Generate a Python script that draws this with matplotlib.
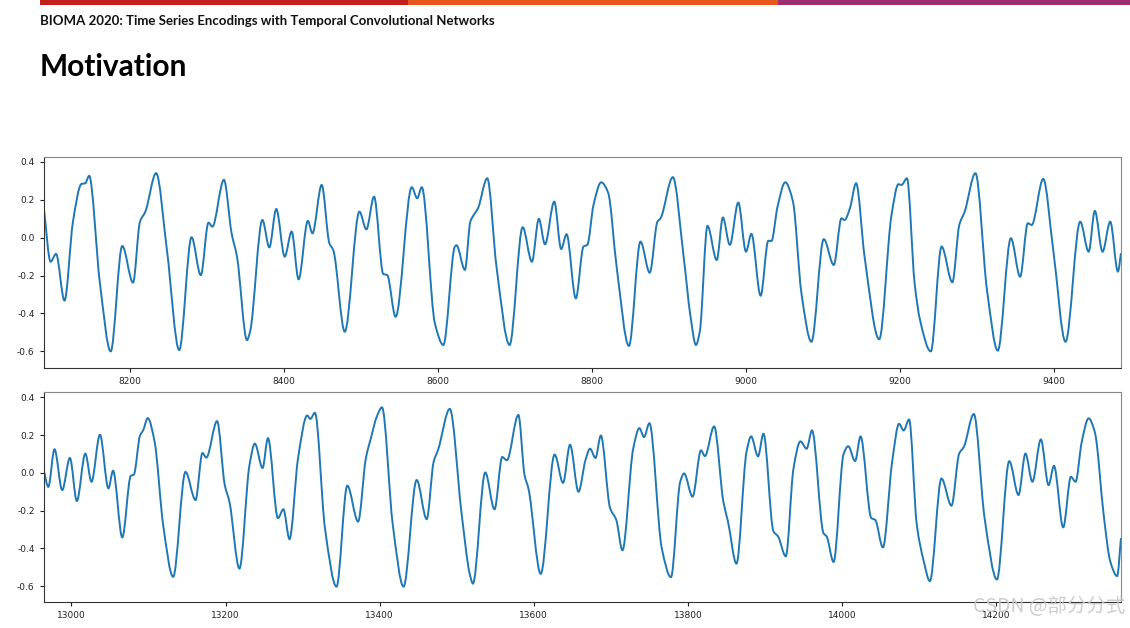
import matplotlib

matplotlib.use("Agg")
import matplotlib.pyplot as plt
import numpy as np
from matplotlib.patches import Rectangle, PathPatch
from matplotlib.path import Path

TITLE = "BIOMA 2020: Time Series Encodings with Temporal Convolutional Networks"
HEADING = "Motivation"
WATERMARK = "CSDN @部分分式"

# top panel: samples (time index, value)
top_t = [8088, 8097, 8104, 8115, 8126, 8137, 8142, 8147, 8161, 8175, 8190, 8204,
         8213, 8220, 8234, 8248, 8264, 8280, 8292, 8302, 8307, 8322, 8332, 8339,
         8352, 8356, 8372, 8381, 8390, 8401, 8410, 8419, 8431, 8437, 8449, 8459,
         8464, 8479, 8498, 8507, 8517, 8529, 8534, 8545, 8566, 8573, 8579, 8596,
         8607, 8622, 8624, 8635, 8642, 8648, 8652, 8664, 8676, 8693, 8710, 8722,
         8731, 8739, 8751, 8760, 8767, 8779, 8789, 8794, 8802, 8812, 8821, 8832,
         8848, 8863, 8875, 8885, 8889, 8905, 8919, 8928, 8935, 8940, 8950, 8962,
         8970, 8979, 8990, 9000, 9007, 9019, 9029, 9033, 9041, 9051, 9061, 9072,
         9085, 9101, 9114, 9124, 9128, 9135, 9143, 9154, 9173, 9189, 9198, 9202,
         9209, 9219, 9226, 9240, 9254, 9268, 9277, 9284, 9298, 9313, 9327, 9344,
         9356, 9366, 9371, 9386, 9399, 9415, 9434, 9445, 9453, 9463, 9473, 9483,
         9487]
top_v = [0.164, -0.127, -0.086, -0.332, 0.084, 0.283, 0.287, 0.326, -0.240, -0.600,
         -0.044, -0.237, 0.084, 0.137, 0.340, -0.065, -0.593, 0.002, -0.198, 0.079,
         0.058, 0.305, 0.023, -0.100, -0.540, -0.496, 0.093, -0.051, 0.151, -0.100,
         0.032, -0.220, 0.088, 0.023, 0.278, -0.030, -0.065, -0.496, 0.137, 0.044,
         0.216, -0.192, -0.197, -0.417, 0.266, 0.208, 0.266, -0.452, -0.566, -0.047,
         -0.040, -0.170, 0.084, 0.129, 0.155, 0.313, -0.153, -0.566, 0.055, -0.127,
         0.099, -0.035, 0.190, -0.060, 0.018, -0.320, -0.047, -0.038, 0.173, 0.292,
         0.237, -0.153, -0.571, -0.021, -0.185, 0.084, 0.102, 0.319, -0.100, -0.417,
         -0.566, -0.496, 0.062, -0.118, 0.106, -0.038, 0.185, -0.074, 0.020, -0.306,
         -0.016, -0.018, 0.164, 0.292, 0.190, -0.293, -0.549, -0.008, -0.144, 0.102,
         0.093, 0.155, 0.287, -0.100, -0.536, 0.120, 0.282, 0.278, 0.313, -0.240,
         -0.434, -0.600, -0.047, -0.235, 0.067, 0.137, 0.340, -0.277, -0.596, -0.003,
         -0.206, 0.076, 0.067, 0.310, -0.065, -0.549, 0.084, -0.074, 0.141, -0.074,
         0.084, -0.179, -0.082]

# bottom panel
bot_t = [12964, 12970, 12978, 12988, 12998, 13007, 13018, 13026, 13037, 13048,
         13054, 13066, 13077, 13081, 13089, 13093, 13099, 13108, 13119, 13132,
         13148, 13161, 13170, 13175, 13189, 13199, 13205, 13218, 13231, 13238,
         13248, 13255, 13268, 13275, 13283, 13294, 13306, 13310, 13316, 13329,
         13344, 13358, 13372, 13382, 13389, 13396, 13403, 13417, 13431, 13448,
         13461, 13470, 13476, 13491, 13506, 13517, 13521, 13537, 13549, 13559,
         13565, 13580, 13588, 13593, 13609, 13627, 13638, 13647, 13658, 13667,
         13673, 13680, 13687, 13699, 13707, 13715, 13729, 13737, 13743, 13750,
         13766, 13778, 13790, 13795, 13806, 13817, 13822, 13834, 13846, 13852,
         13863, 13876, 13882, 13891, 13898, 13911, 13917, 13927, 13937, 13946,
         13954, 13961, 13976, 13980, 13989, 14002, 14008, 14017, 14024, 14038,
         14043, 14053, 14065, 14074, 14080, 14087, 14097, 14106, 14114, 14129,
         14142, 14152, 14158, 14171, 14185, 14201, 14217, 14229, 14238, 14247,
         14258, 14268, 14275, 14287, 14297, 14303, 14311, 14320, 14328, 14340,
         14348, 14357, 14362]
bot_v = [0.014, -0.074, 0.125, -0.091, 0.079, -0.149, 0.102, -0.047, 0.202, -0.082,
         0.011, -0.342, -0.016, -0.009, 0.198, 0.225, 0.290, 0.163, -0.275, -0.551,
         0.005, -0.144, 0.105, 0.081, 0.274, -0.065, -0.153, -0.507, 0.040, 0.155,
         0.026, 0.184, -0.240, -0.193, -0.351, 0.076, 0.304, 0.286, 0.318, -0.293,
         -0.603, -0.068, -0.258, 0.076, 0.190, 0.295, 0.347, -0.275, -0.603, -0.038,
         -0.245, 0.058, 0.125, 0.339, -0.205, -0.538, -0.587, 0.002, -0.193, 0.084,
         0.067, 0.307, -0.012, -0.082, -0.535, 0.097, -0.053, 0.149, -0.100, 0.067,
         0.128, 0.079, 0.198, -0.187, -0.249, -0.410, 0.128, 0.237, 0.190, 0.263,
         -0.398, -0.553, -0.047, -0.003, -0.126, 0.119, 0.089, 0.246, -0.153, -0.258,
         -0.481, 0.110, 0.193, 0.088, 0.207, -0.310, -0.337, -0.442, 0.023, 0.167,
         0.128, 0.225, -0.320, -0.337, -0.472, 0.100, 0.141, 0.063, 0.193, -0.240,
         -0.249, -0.395, 0.058, 0.260, 0.225, 0.283, -0.275, -0.468, -0.574, -0.030,
         -0.174, 0.102, 0.137, 0.312, -0.240, -0.565, 0.062, -0.117, 0.102, -0.047,
         0.177, -0.065, 0.037, -0.289, -0.021, -0.047, 0.163, 0.289, 0.216, -0.240,
         -0.468, -0.547, -0.345]

top_ticks = [8200, 8400, 8600, 8800, 9000, 9200, 9400]
bot_ticks = [13000, 13200, 13400, 13600, 13800, 14000, 14200]
y_ticks = [0.4, 0.2, 0.0, -0.2, -0.4, -0.6]


def smooth_path(t, v):
    """Bezier path through the read samples (monotone tangents, no overshoot)."""
    t = np.asarray(t, float)
    v = np.asarray(v, float)
    h = np.diff(t)
    d = np.diff(v) / h
    m = np.zeros_like(v)
    m[0], m[-1] = d[0], d[-1]
    for i in range(1, len(v) - 1):
        if d[i - 1] * d[i] > 0:
            w1 = 2 * h[i] + h[i - 1]
            w2 = h[i] + 2 * h[i - 1]
            m[i] = (w1 + w2) / (w1 / d[i - 1] + w2 / d[i])
    verts = [(t[0], v[0])]
    codes = [Path.MOVETO]
    for i in range(len(h)):
        s = h[i] / 3
        verts += [(t[i] + s, v[i] + m[i] * s),
                  (t[i + 1] - s, v[i + 1] - m[i + 1] * s),
                  (t[i + 1], v[i + 1])]
        codes += [Path.CURVE4] * 3
    return Path(verts, codes)


fig = plt.figure(figsize=(11.3, 6.28), dpi=100)
fig.patch.set_facecolor("white")

# coloured band at the top of the slide
for x0, x1, col in [(40, 408, "#c21f1f"), (408, 778, "#e8561e"), (778, 1130, "#9d2f70")]:
    fig.add_artist(Rectangle((x0 / 1130, 1 - 5 / 628), (x1 - x0) / 1130, 5 / 628,
                             transform=fig.transFigure, facecolor=col,
                             edgecolor="none"))

fig.text(40 / 1130, 1 - 21 / 628, TITLE, fontsize=9.55, fontweight="bold",
         family="Lato", va="center", ha="left", color="#111111")
fig.text(40 / 1130, 1 - 67 / 628, HEADING, fontsize=21.5, fontweight="bold",
         family="Lato", va="center", ha="left", color="#000000")


def panel(rect, t, v, ticks, xlim):
    ax = fig.add_axes(rect)
    ax.add_patch(PathPatch(smooth_path(t, v), facecolor="none",
                           edgecolor="#1f77b4", lw=1.4))
    ax.set_xlim(*xlim)
    ax.set_ylim(-0.686, 0.427)
    ax.set_xticks(ticks)
    ax.set_yticks(y_ticks)
    ax.set_yticklabels([f"{y:.1f}" for y in y_ticks])
    ax.tick_params(labelsize=6.5, length=3, width=0.8, colors="#222222")
    for s in ["left", "bottom"]:
        ax.spines[s].set_color("#333333")
    for s in ["top", "right"]:
        ax.spines[s].set_color("#888888")
    return ax


panel([43.7 / 1130, 1 - 367.7 / 628, (1121 - 43.7) / 1130, 211 / 628],
      top_t, top_v, top_ticks, (8088, 9487))
panel([43.7 / 1130, 1 - 602.3 / 628, (1121 - 43.7) / 1130, 210 / 628],
      bot_t, bot_v, bot_ticks, (12964, 14362))

# watermark sits over the last tick label in the source image as well
fig.text(1125 / 1130, 1 - 607 / 628, WATERMARK, fontsize=14, ha="right",
         va="center", color="#c8c8c8", alpha=0.9,
         family=["Noto Sans CJK SC", "DejaVu Sans"])

fig.savefig("out.png", dpi=100)
